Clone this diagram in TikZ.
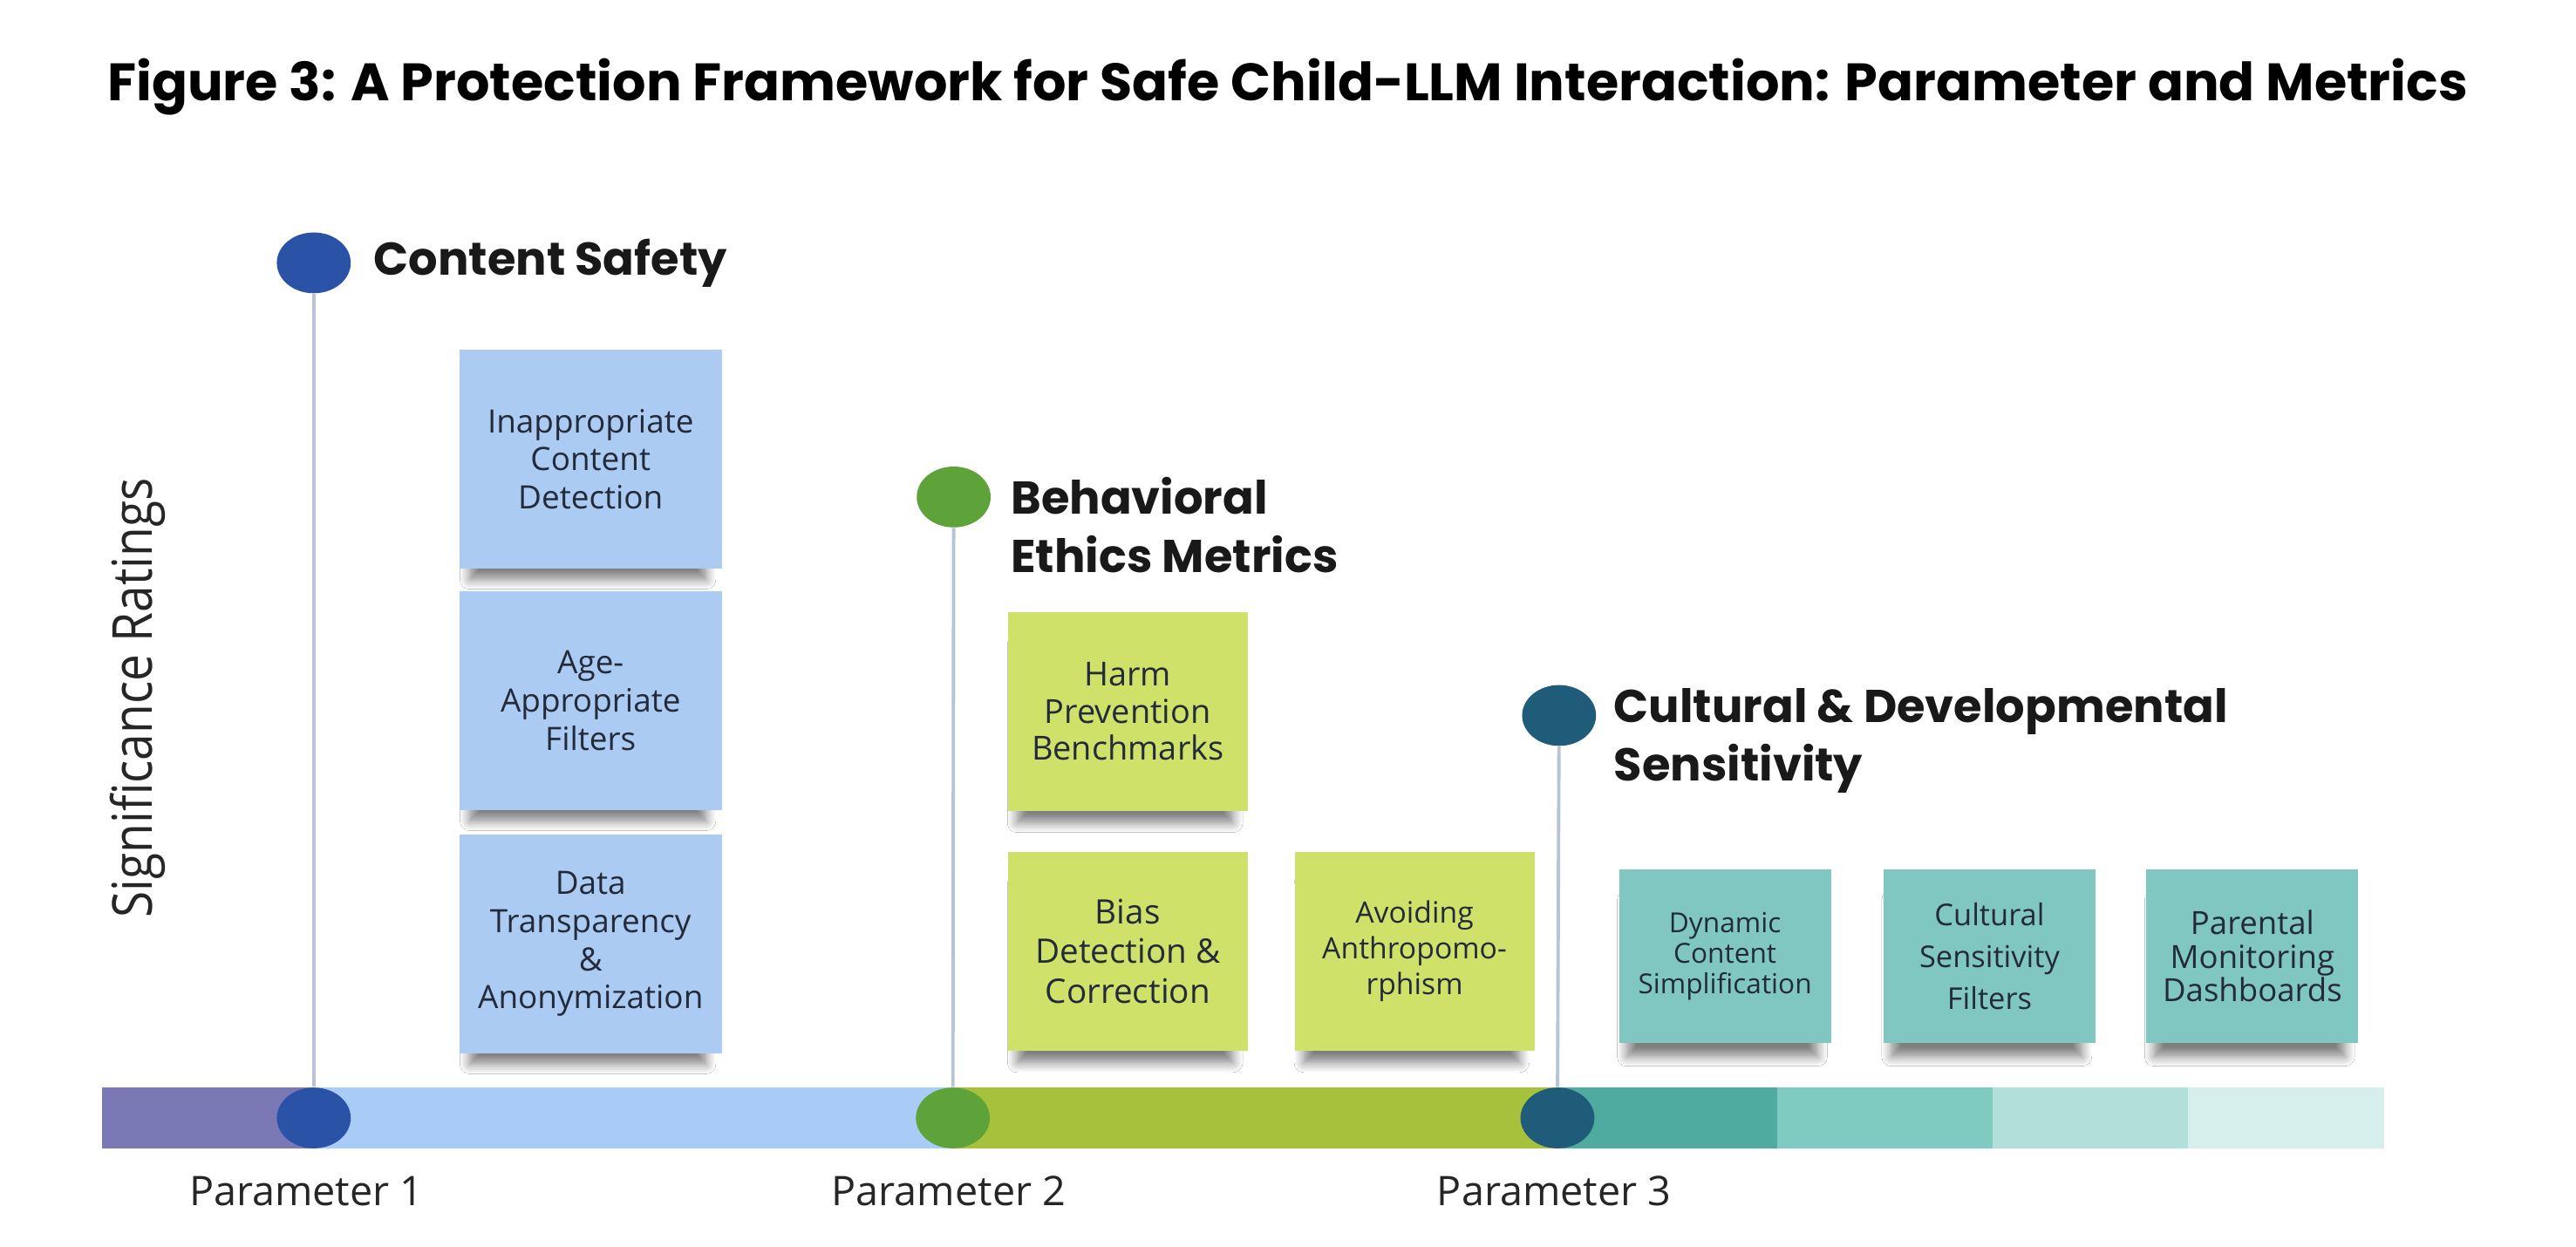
\documentclass[tikz,border=0pt]{standalone}
\usepackage{graphicx}
\usepackage{fontspec}
\setmainfont{Open Sans}
\newfontfamily\headfont{Poppins}
\usetikzlibrary{shapes.geometric,shadows.blur}
\newcommand{\px}{0.01884cm}
\definecolor{csblue}{HTML}{2A52A6}
\definecolor{begreen}{HTML}{5EA23A}
\definecolor{cdteal}{HTML}{1F5C7A}
\definecolor{noteblue}{HTML}{ABCBF2}
\definecolor{notegreen}{HTML}{D0E16A}
\definecolor{noteteal}{HTML}{7FC7C0}
\definecolor{notetext}{HTML}{232B3A}
\definecolor{barpurple}{HTML}{7B78B6}
\definecolor{barblue}{HTML}{A9CCF6}
\definecolor{bargreen}{HTML}{A6C23C}
\definecolor{barteal}{HTML}{4FAA9F}
\definecolor{bartealb}{HTML}{7FCBC2}
\definecolor{bartealc}{HTML}{B1E0DB}
\definecolor{bartead}{HTML}{D6EEEC}
\definecolor{stemgray}{HTML}{B8C3D6}
\begin{document}
\begin{tikzpicture}[x=\px, y=-\px,
    dot/.style={ellipse, minimum width=45*\px, minimum height=37*\px, inner sep=0pt},
    stem/.style={draw=stemgray, line width=1.1pt},
    head/.style={anchor=west, align=left, inner sep=0pt, text=black!90, font=\headfont\bfseries\fontsize{15}{19}\selectfont},
    note/.style={rectangle, inner sep=2pt, align=center, text=notetext,
        blur shadow={shadow xshift=-1pt, shadow yshift=-8pt, shadow scale=0.9,
            shadow blur radius=3.5pt, shadow blur steps=8, shadow opacity=50}},
    bluenote/.style={note, fill=noteblue, minimum width=160*\px, minimum height=133*\px, font=\fontsize{10.5}{12.5}\selectfont},
    greennote/.style={note, fill=notegreen, minimum width=146*\px, minimum height=121*\px, font=\fontsize{10.8}{12}\selectfont},
    tealnote/.style={note, fill=noteteal, minimum width=129*\px, minimum height=106*\px, font=\fontsize{10.4}{11}\selectfont},
    param/.style={font=\fontsize{13.3}{15}\selectfont, text=black!85},
]
\useasboundingbox[fill=white] (0,0) rectangle (1568,759);

\node[anchor=west, inner sep=0pt, font=\headfont\bfseries\fontsize{17.2}{19}\selectfont] (title) at (65,53)
    {Figure 3: A Protection Framework for Safe Child-LLM Interaction: Parameter and Metrics};

\node[rotate=90, font=\fontsize{18}{18}\selectfont, text=black!85] (axis) at (84,425)
    {\scalebox{0.87}[1]{Significance Ratings}};

% timeline bar
\foreach \a/\b/\c in {62/191/barpurple, 191/580/barblue, 580/948/bargreen, 948/1082/barteal,
    1082/1213/bartealb, 1213/1332/bartealc, 1332/1451/bartead}
\fill[\c] (\a,662) rectangle (\b,699);

\node[dot, fill=csblue] (p1) at (191,680.5) {};
\node[dot, fill=begreen] (p2) at (580,680.5) {};
\node[dot, fill=cdteal] (p3) at (948,680.5) {};

\node[dot, fill=csblue] (cs) at (191,160) {};
\node[dot, fill=begreen] (be) at (580.5,302.5) {};
\node[dot, fill=cdteal] (cd) at (949,435.5) {};
\draw[stem] (cs) -- (p1);
\draw[stem] (be) -- (p2);
\draw[stem] (cd) -- (p3);

\node[head] (csl) at (227,160) {Content Safety};
\node[head] (bel) at (615,319.5) {Behavioral\\Ethics Metrics};
\node[head] (cdl) at (982,451) {Cultural \& Developmental\\Sensitivity};

% parameter 1
\node[bluenote] (icd) at (359.5,279.5) {Inappropriate\\Content\\Detection};
\node[bluenote] (aaf) at (359.5,426.5) {Age-\\Appropriate\\Filters};
\node[bluenote] (dta) at (359.5,574.5) {Data\\Transparency\\\&\\Anonymization};

% parameter 2
\node[greennote] (hpb) at (686.5,433) {Harm\\Prevention\\Benchmarks};
\node[greennote, font=\fontsize{11}{13}\selectfont] (bdc) at (686.5,579) {Bias\\Detection \&\\Correction};
\node[greennote, font=\fontsize{9.6}{11.7}\selectfont] (aan) at (861,579) {Avoiding\\Anthropomo-\\rphism};

% parameter 3
\node[tealnote, font=\fontsize{9}{10}\selectfont] (dcs) at (1050,582) {Dynamic\\Content\\Simplification};
\node[tealnote, font=\fontsize{9.8}{13.6}\selectfont] (csf) at (1211,582) {Cultural\\Sensitivity\\Filters};
\node[tealnote] (pmd) at (1371,582) {Parental\\Monitoring\\Dashboards};

\node[param] (par1) at (186.5,725) {Parameter 1};
\node[param] (par2) at (577.5,725) {Parameter 2};
\node[param] (par3) at (946,725) {Parameter 3};
\end{tikzpicture}
\end{document}
